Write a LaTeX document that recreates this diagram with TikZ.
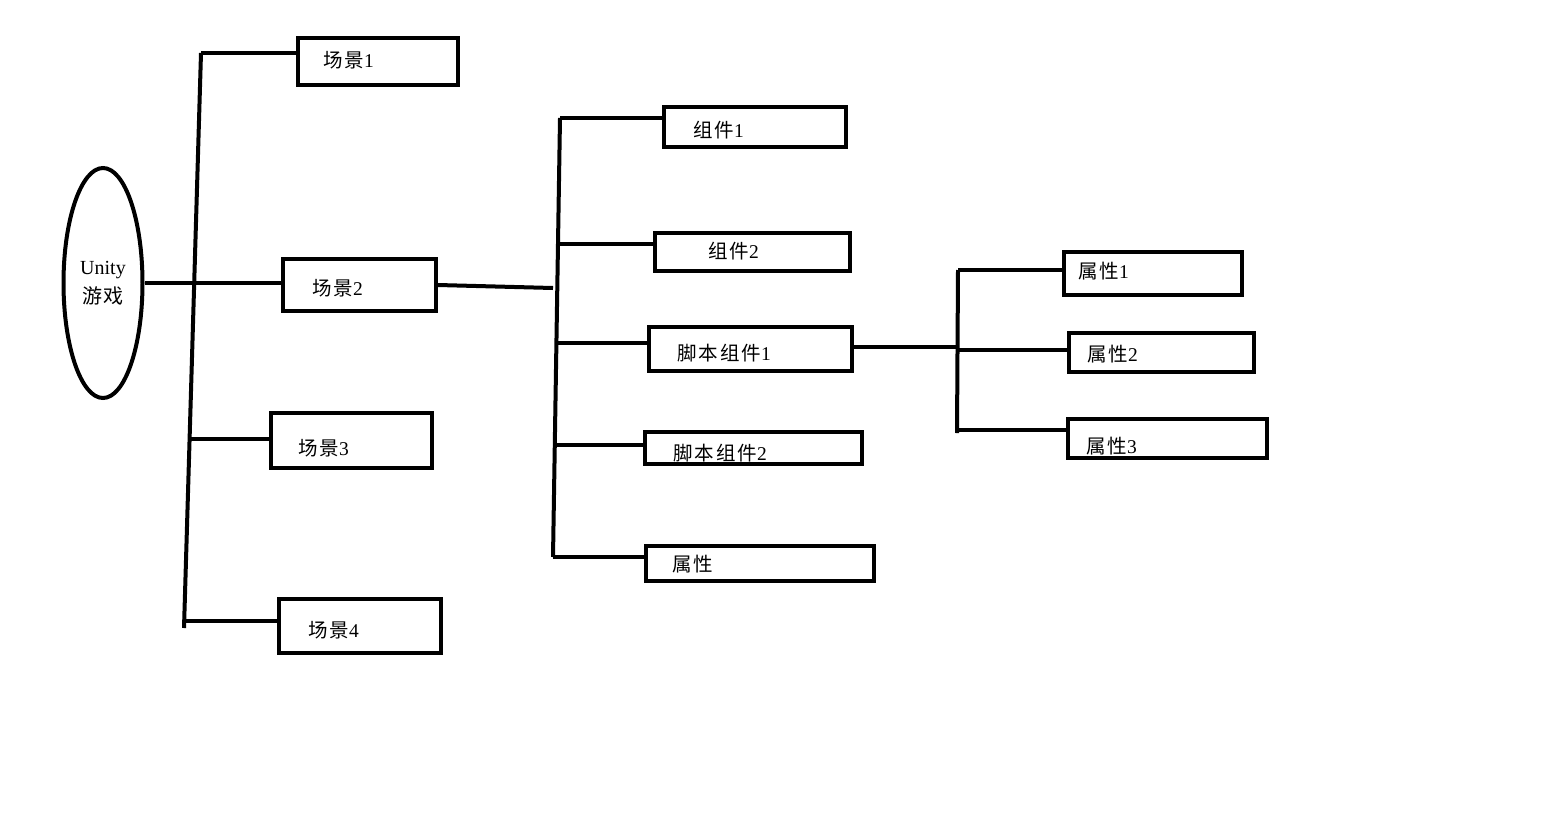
\documentclass[tikz,border=0pt]{standalone}
\usepackage{fontspec}
\setmainfont{Liberation Serif}
\newfontfamily\cjk[LetterSpace=10]{Noto Sans CJK SC}
\newcommand\zh[1]{{\cjk #1}}
\usetikzlibrary{shapes.geometric}

\begin{document}
\begin{tikzpicture}[x=1pt, y=-1pt,
    box/.style={draw, line width=4pt, inner sep=0pt},
    wire/.style={line width=4pt},
    txt/.style={anchor=west, inner sep=0pt, font=\fontsize{19.5}{24}\selectfont}]
  \useasboundingbox (0,0) rectangle (1546,825);
  % root
  \node[ellipse, draw, line width=4pt, inner sep=0pt, minimum width=79, minimum height=230,
        align=center, font=\fontsize{20}{29}\selectfont] (game) at (103,283) {Unity\\\zh{游戏}};
  % scenes
  \node[box, minimum width=160, minimum height=47] (s1) at (378,61.5) {};
  \node[box, minimum width=153, minimum height=52] (s2) at (359.5,285) {};
  \node[box, minimum width=161, minimum height=55] (s3) at (351.5,440.5) {};
  \node[box, minimum width=162, minimum height=54] (s4) at (360,626) {};
  \node[txt] (s1t) at (323,60) {\zh{场景}1};
  \node[txt] (s2t) at (312,288) {\zh{场景}2};
  \node[txt] (s3t) at (298,448) {\zh{场景}3};
  \node[txt] (s4t) at (308,630) {\zh{场景}4};
  % components
  \node[box, minimum width=182, minimum height=40] (c1) at (755,127) {};
  \node[box, minimum width=195, minimum height=38] (c2) at (752.5,252) {};
  \node[box, minimum width=203, minimum height=44] (sc1) at (750.5,349) {};
  \node[box, minimum width=217, minimum height=32] (sc2) at (753.5,448) {};
  \node[box, minimum width=228, minimum height=35] (attr) at (760,563.5) {};
  \node[txt] (c1t) at (693,130) {\zh{组件}1};
  \node[txt] (c2t) at (708,251) {\zh{组件}2};
  \node[txt] (sc1t) at (677,353) {\zh{脚本组件}1};
  \node[txt] (sc2t) at (673,453) {\zh{脚本组件}2};
  \node[txt] (attrt) at (672,564) {\zh{属性}};
  % attributes
  \node[box, minimum width=178, minimum height=43] (a1) at (1153,273.5) {};
  \node[box, minimum width=185, minimum height=39] (a2) at (1161.5,352.5) {};
  \node[box, minimum width=199, minimum height=39] (a3) at (1167.5,438.5) {};
  \node[txt] (a1t) at (1078,271) {\zh{属性}1};
  \node[txt] (a2t) at (1087,354) {\zh{属性}2};
  \node[txt] (a3t) at (1086,446) {\zh{属性}3};

  % trunk 1
  \coordinate (t1top) at (201,53);
  \coordinate (t1bot) at (184,628);
  \coordinate (j1) at (191,283);
  \coordinate (b3) at (190,439);
  \coordinate (b4) at (184,621);
  \draw[wire] (t1top) -- (t1bot);
  \draw[wire] (t1top) -- (s1.west |- t1top);
  \draw[wire] (game.east |- j1) -- (j1) -- (s2.west |- j1);
  \draw[wire] (b3) -- (s3.west |- b3);
  \draw[wire] (b4) -- (s4.west |- b4);
  % trunk 2
  \coordinate (t2top) at (560,118);
  \coordinate (t2bot) at (553,557);
  \coordinate (j2) at (553,288);
  \coordinate (d2) at (558,244);
  \coordinate (d3) at (557,343);
  \coordinate (d4) at (555,445);
  \draw[wire] (t2top) -- (t2bot);
  \draw[wire] (s2.east) -- (j2);
  \draw[wire] (t2top) -- (c1.west |- t2top);
  \draw[wire] (d2) -- (c2.west |- d2);
  \draw[wire] (d3) -- (sc1.west |- d3);
  \draw[wire] (d4) -- (sc2.west |- d4);
  \draw[wire] (t2bot) -- (attr.west |- t2bot);
  % trunk 3
  \coordinate (t3top) at (958,270);
  \coordinate (t3bot) at (957,433);
  \coordinate (j3) at (957,347);
  \coordinate (e2) at (957,350);
  \coordinate (e3) at (957,430);
  \draw[wire] (t3top) -- (t3bot);
  \draw[wire] (sc1.east |- j3) -- (j3);
  \draw[wire] (t3top) -- (a1.west |- t3top);
  \draw[wire] (e2) -- (a2.west |- e2);
  \draw[wire] (e3) -- (a3.west |- e3);
\end{tikzpicture}
\end{document}
